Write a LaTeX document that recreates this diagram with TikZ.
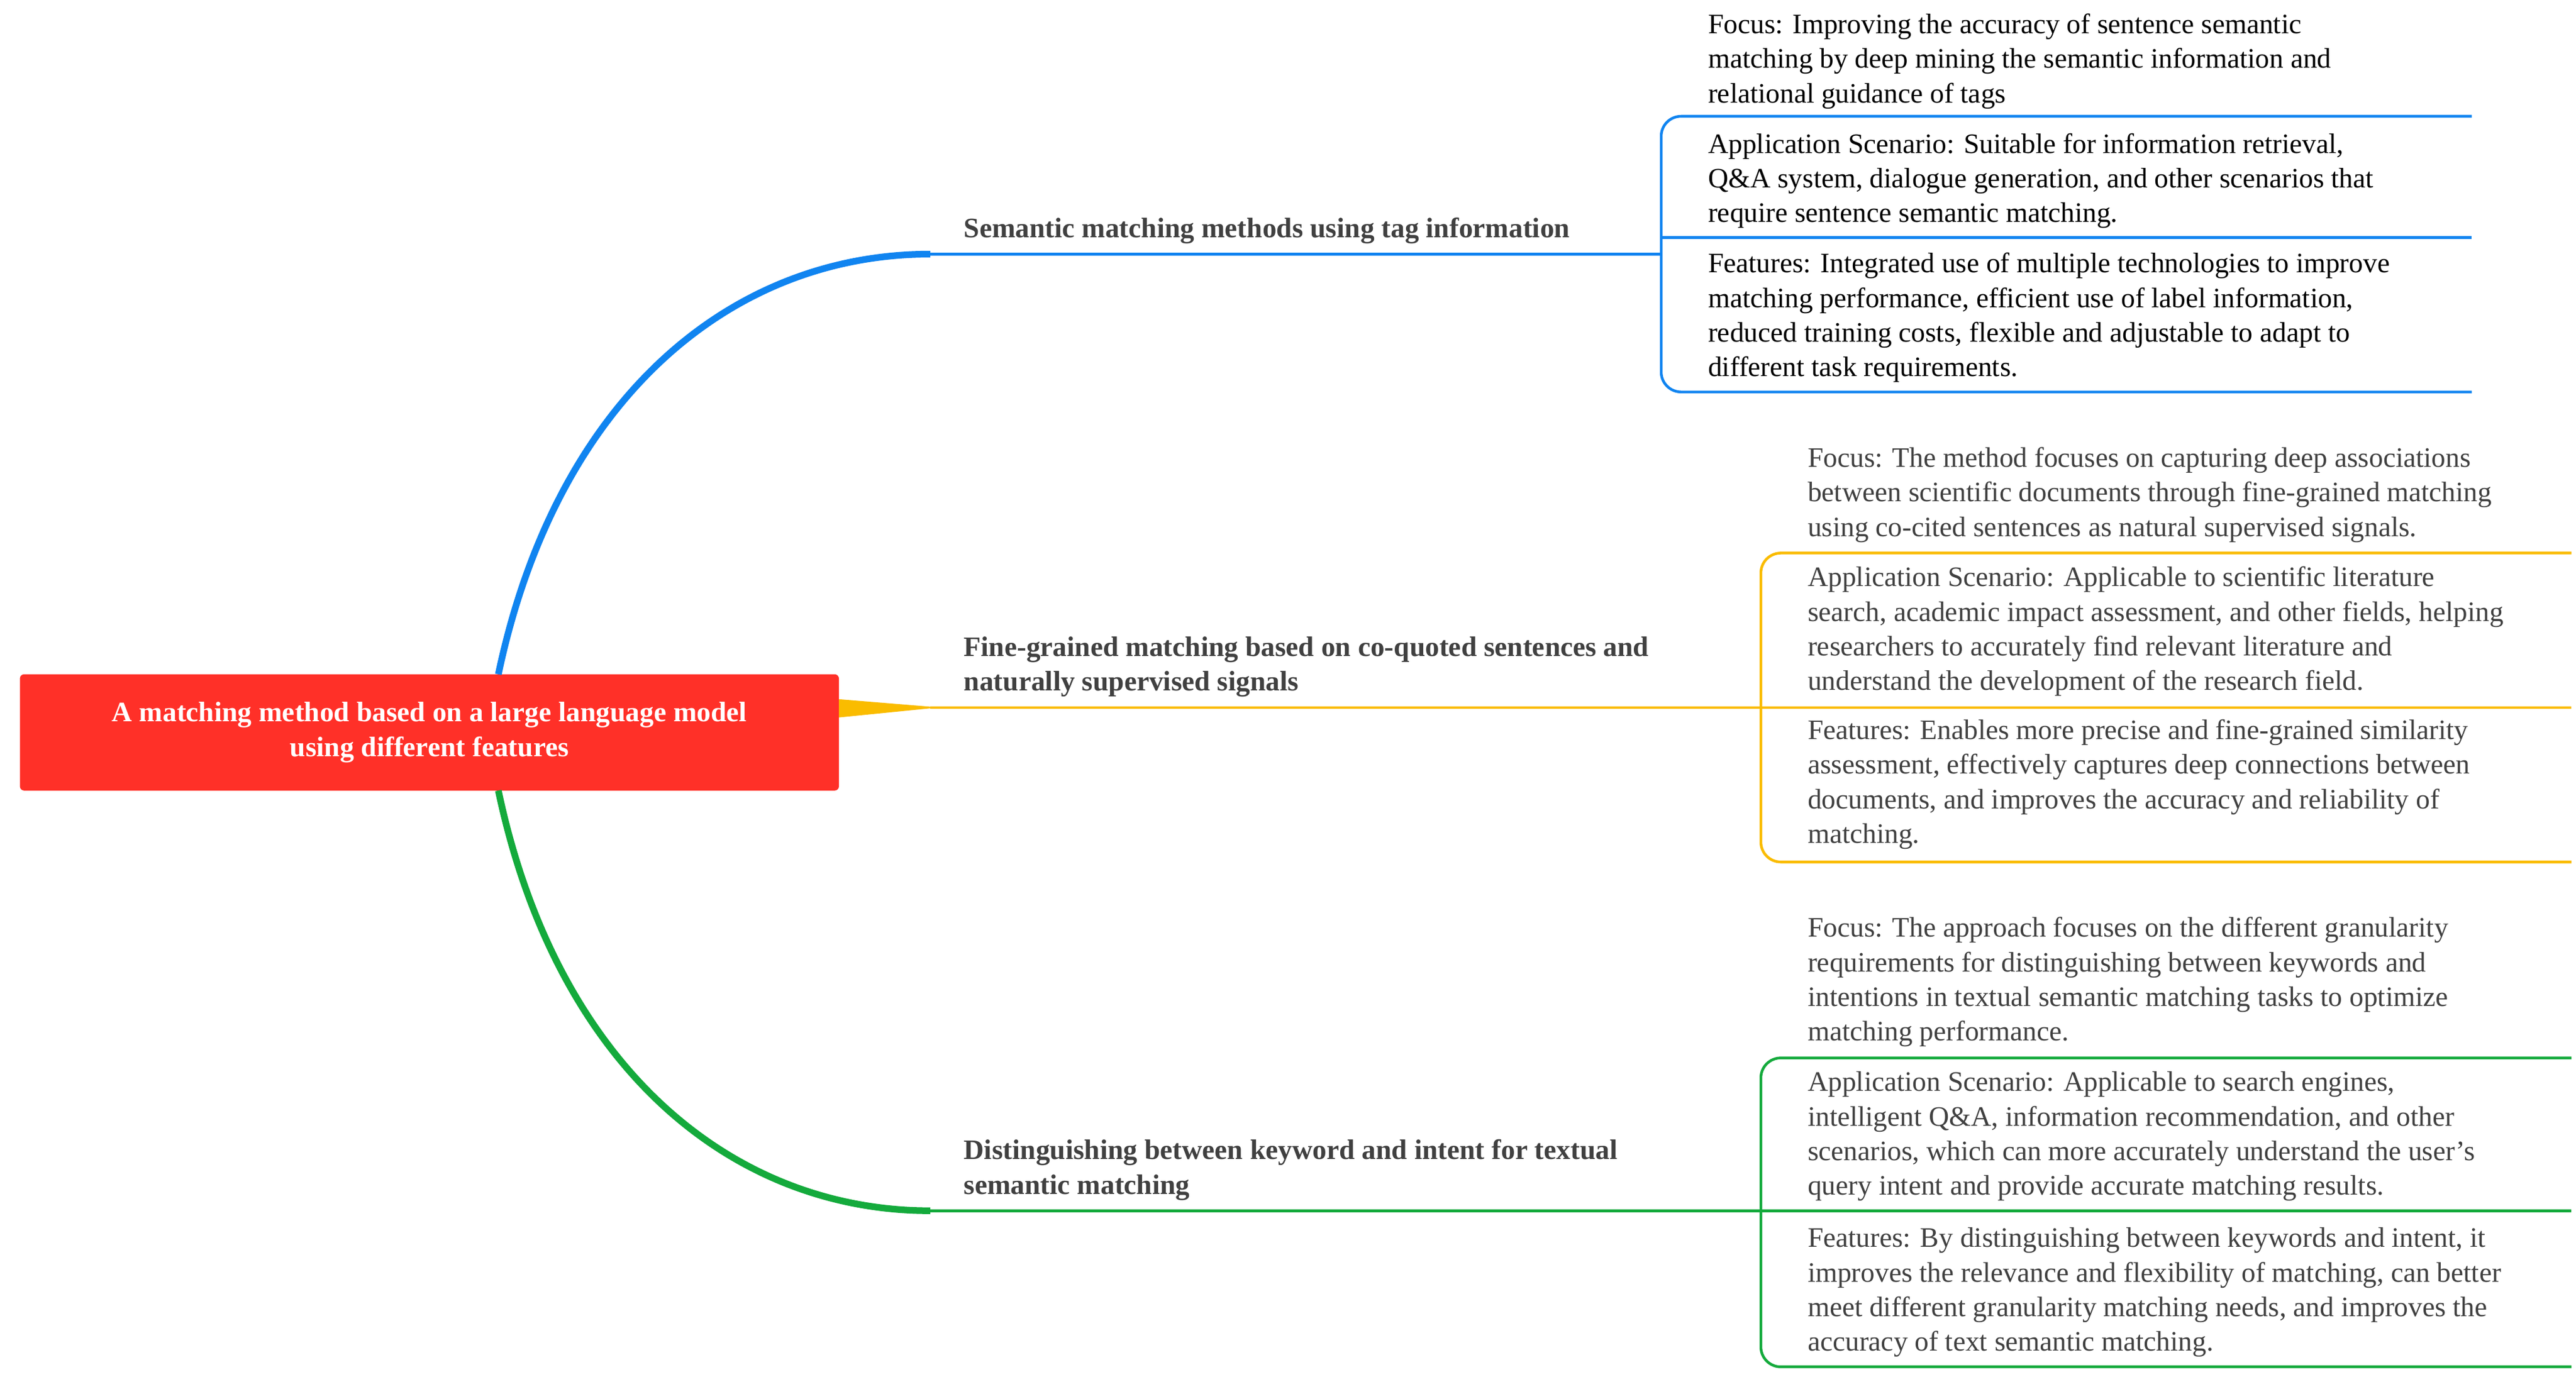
\documentclass[tikz,border=0pt]{standalone}
\usepackage{fontspec}
\setmainfont{Liberation Serif}
\definecolor{cblue}{RGB}{16,132,240}
\definecolor{cyel}{RGB}{250,188,0}
\definecolor{cgreen}{RGB}{20,170,60}
\definecolor{cred}{RGB}{255,48,40}
\definecolor{tgray}{RGB}{64,64,64}
\begin{document}
\begin{tikzpicture}[x=0.028cm,y=-0.028cm,
  txt/.style={anchor=north west,inner sep=0pt,align=left,font=\fontsize{13.5}{16.6}\selectfont},
  lbl/.style={anchor=south west,inner sep=0pt,align=left,text=tgray,font=\fontsize{13.5}{16.6}\selectfont\bfseries},
  thin/.style={line width=1.3pt},
  thick/.style={line width=3.2pt}]
\useasboundingbox (0,0) rectangle (1550.7,832.1);
% root
\node[fill=cred,rounded corners=2pt,minimum width=493*0.028cm,minimum height=70*0.028cm,inner sep=0pt,
  text=white,align=center,font=\fontsize{13.5}{16.6}\selectfont\bfseries] (root) at (258.5,441)
  {A matching method based on a large language model\\using different features};
% blue
\coordinate (b0) at (300,406); \coordinate (b1) at (560,153); \coordinate (b2) at (1000,153);
\draw[cblue,thick] (b0) .. controls (335,240) and (440,153) .. (b1);
\draw[cblue,thin] (b1) -- (b2);
\draw[cblue,thin,rounded corners=12*0.028cm] (1488,70) -- (1000,70) -- (1000,236) -- (1488,236);
\draw[cblue,thin] (1000,143) -- (1488,143);
\node[lbl] (bl) at (580,147) {Semantic matching methods using tag information};
\node[txt] (bf) at (1028,8) {Focus: Improving the accuracy of sentence semantic\\matching by deep mining the semantic information and\\relational guidance of tags};
\node[txt] (ba) at (1028,80) {Application Scenario: Suitable for information retrieval,\\Q\&A system, dialogue generation, and other scenarios that\\require sentence semantic matching.};
\node[txt] (bx) at (1028,152) {Features: Integrated use of multiple technologies to improve\\matching performance, efficient use of label information,\\reduced training costs, flexible and adjustable to adapt to\\different task requirements.};
% yellow
\coordinate (y0) at (505,426); \coordinate (y1) at (560,426); \coordinate (y2) at (1060,426);
\fill[cyel] (505,421) -- (560,425.5) -- (560,426.5) -- (505,432) -- cycle;
\draw[cyel,thin] (y1) -- (y2);
\draw[cyel,thin,rounded corners=12*0.028cm] (1548,333) -- (1060,333) -- (1060,519) -- (1548,519);
\draw[cyel,thin] (1060,426) -- (1548,426);
\node[lbl] (yl) at (580,420) {Fine-grained matching based on co-quoted sentences and\\naturally supervised signals};
\node[txt,text=tgray] (yf) at (1088,269) {Focus: The method focuses on capturing deep associations\\between scientific documents through fine-grained matching\\using co-cited sentences as natural supervised signals.};
\node[txt,text=tgray] (ya) at (1088,341) {Application Scenario: Applicable to scientific literature\\search, academic impact assessment, and other fields, helping\\researchers to accurately find relevant literature and\\understand the development of the research field.};
\node[txt,text=tgray] (yx) at (1088,433) {Features: Enables more precise and fine-grained similarity\\assessment, effectively captures deep connections between\\documents, and improves the accuracy and reliability of\\matching.};
% green
\coordinate (g0) at (300,476); \coordinate (g1) at (560,729); \coordinate (g2) at (1060,729);
\draw[cgreen,thick] (g0) .. controls (335,642) and (440,729) .. (g1);
\draw[cgreen,thin] (g1) -- (g2);
\draw[cgreen,thin,rounded corners=12*0.028cm] (1548,637) -- (1060,637) -- (1060,823) -- (1548,823);
\draw[cgreen,thin] (1060,729) -- (1548,729);
\node[lbl] (gl) at (580,723) {Distinguishing between keyword and intent for textual\\semantic matching};
\node[txt,text=tgray] (gf) at (1088,552) {Focus: The approach focuses on the different granularity\\requirements for distinguishing between keywords and\\intentions in textual semantic matching tasks to optimize\\matching performance.};
\node[txt,text=tgray] (ga) at (1088,645) {Application Scenario: Applicable to search engines,\\intelligent Q\&A, information recommendation, and other\\scenarios, which can more accurately understand the user's\\query intent and provide accurate matching results.};
\node[txt,text=tgray] (gx) at (1088,739) {Features: By distinguishing between keywords and intent, it\\improves the relevance and flexibility of matching, can better\\meet different granularity matching needs, and improves the\\accuracy of text semantic matching.};
\end{tikzpicture}
\end{document}
